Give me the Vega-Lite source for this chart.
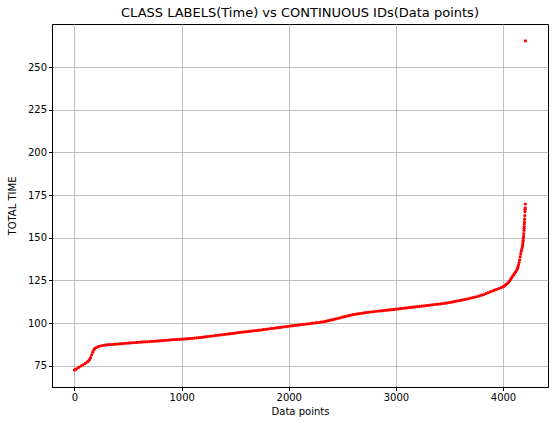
{
  "$schema": "https://vega.github.io/schema/vega-lite/v6.json",
  "width": 496,
  "height": 363,
  "autosize": {"type": "none"},
  "padding": {"left": 52, "top": 24, "right": 8, "bottom": 40},
  "background": "white",
  "title": {"text": "CLASS LABELS(Time) vs CONTINUOUS IDs(Data points)", "font": "DejaVu Sans", "fontSize": 13, "fontWeight": "normal", "color": "black", "offset": 4},
  "config": {
    "view": {"stroke": "black", "strokeWidth": 1},
    "axis": {"labelFont": "DejaVu Sans", "titleFont": "DejaVu Sans", "labelFontSize": 10, "titleFontSize": 10, "titleFontWeight": "normal", "labelColor": "black", "titleColor": "black", "domainColor": "black", "tickColor": "black", "tickSize": 3.5, "labelPadding": 2, "gridColor": "#b0b0b0", "gridWidth": 0.8, "gridOpacity": 1}
  },
  "data": {"values": [
{"x":0,"y":72.5},{"x":10,"y":72.9},{"x":20,"y":73.3},{"x":40,"y":74.1},{"x":60,"y":74.9},{"x":80,"y":75.6},{"x":100,"y":76.4},{"x":120,"y":77.3},{"x":130,"y":77.9},{"x":140,"y":78.6},{"x":150,"y":79.8},{"x":160,"y":81.5},{"x":170,"y":83.0},{"x":180,"y":84.3},{"x":190,"y":85.1},{"x":200,"y":85.6},{"x":220,"y":86.2},{"x":240,"y":86.6},{"x":260,"y":86.9},{"x":280,"y":87.1},{"x":300,"y":87.3},
{"x":320,"y":87.4},{"x":340,"y":87.5},{"x":360,"y":87.6},{"x":380,"y":87.7},{"x":400,"y":87.8},{"x":420,"y":87.9},{"x":440,"y":88.0},{"x":460,"y":88.1},{"x":480,"y":88.2},{"x":500,"y":88.3},{"x":520,"y":88.4},{"x":540,"y":88.5},{"x":560,"y":88.6},{"x":580,"y":88.7},{"x":600,"y":88.8},{"x":620,"y":88.9},{"x":640,"y":89.0},{"x":660,"y":89.05},{"x":680,"y":89.1},{"x":700,"y":89.2},{"x":720,"y":89.3},{"x":740,"y":89.4},{"x":760,"y":89.5},{"x":780,"y":89.6},{"x":800,"y":89.7},{"x":820,"y":89.8},{"x":840,"y":89.9},{"x":860,"y":90.0},{"x":880,"y":90.1},{"x":900,"y":90.2},{"x":920,"y":90.3},{"x":940,"y":90.4},{"x":960,"y":90.45},{"x":980,"y":90.5},{"x":1000,"y":90.6},
{"x":1020,"y":90.7},{"x":1040,"y":90.8},{"x":1060,"y":90.9},{"x":1080,"y":91.0},{"x":1100,"y":91.1},{"x":1120,"y":91.3},{"x":1140,"y":91.4},{"x":1160,"y":91.5},{"x":1180,"y":91.6},{"x":1200,"y":91.8},
{"x":1220,"y":92.0},{"x":1240,"y":92.1},{"x":1260,"y":92.3},{"x":1280,"y":92.4},{"x":1300,"y":92.6},{"x":1320,"y":92.8},{"x":1340,"y":92.9},{"x":1360,"y":93.1},{"x":1380,"y":93.2},{"x":1400,"y":93.4},{"x":1420,"y":93.6},{"x":1440,"y":93.7},{"x":1460,"y":93.9},{"x":1480,"y":94.0},{"x":1500,"y":94.2},
{"x":1520,"y":94.4},{"x":1540,"y":94.5},{"x":1560,"y":94.7},{"x":1580,"y":94.8},{"x":1600,"y":95.0},{"x":1620,"y":95.1},{"x":1640,"y":95.3},{"x":1660,"y":95.4},{"x":1680,"y":95.6},{"x":1700,"y":95.7},{"x":1720,"y":95.9},{"x":1740,"y":96.0},{"x":1760,"y":96.2},{"x":1780,"y":96.3},{"x":1800,"y":96.5},
{"x":1820,"y":96.7},{"x":1840,"y":96.9},{"x":1860,"y":97.0},{"x":1880,"y":97.2},{"x":1900,"y":97.4},{"x":1920,"y":97.5},{"x":1940,"y":97.7},{"x":1960,"y":97.9},{"x":1980,"y":98.0},{"x":2000,"y":98.2},
{"x":2020,"y":98.4},{"x":2040,"y":98.5},{"x":2060,"y":98.7},{"x":2080,"y":98.8},{"x":2100,"y":99.0},{"x":2120,"y":99.2},{"x":2140,"y":99.3},{"x":2160,"y":99.5},{"x":2180,"y":99.6},{"x":2200,"y":99.8},{"x":2220,"y":100.0},{"x":2240,"y":100.1},{"x":2260,"y":100.3},{"x":2280,"y":100.4},{"x":2300,"y":100.6},{"x":2320,"y":100.8},
{"x":2340,"y":101.0},{"x":2360,"y":101.3},{"x":2380,"y":101.6},{"x":2400,"y":101.9},{"x":2420,"y":102.2},{"x":2440,"y":102.5},{"x":2460,"y":102.8},{"x":2480,"y":103.1},{"x":2500,"y":103.5},{"x":2520,"y":103.8},{"x":2540,"y":104.1},{"x":2560,"y":104.4},{"x":2580,"y":104.7},{"x":2600,"y":104.95},
{"x":2620,"y":105.2},{"x":2640,"y":105.4},{"x":2660,"y":105.6},{"x":2680,"y":105.8},{"x":2700,"y":106.0},{"x":2720,"y":106.2},{"x":2740,"y":106.35},{"x":2760,"y":106.5},{"x":2780,"y":106.65},{"x":2800,"y":106.8},
{"x":2820,"y":106.95},{"x":2840,"y":107.1},{"x":2860,"y":107.2},{"x":2880,"y":107.35},{"x":2900,"y":107.5},{"x":2920,"y":107.6},{"x":2940,"y":107.75},{"x":2960,"y":107.9},{"x":2980,"y":108.05},{"x":3000,"y":108.2},
{"x":3020,"y":108.3},{"x":3040,"y":108.5},{"x":3060,"y":108.6},{"x":3080,"y":108.8},{"x":3100,"y":108.9},{"x":3120,"y":109.1},{"x":3140,"y":109.2},{"x":3160,"y":109.4},{"x":3180,"y":109.5},{"x":3200,"y":109.7},{"x":3220,"y":109.8},{"x":3240,"y":110.0},{"x":3260,"y":110.1},{"x":3280,"y":110.3},{"x":3300,"y":110.4},{"x":3320,"y":110.6},{"x":3340,"y":110.7},{"x":3360,"y":110.9},{"x":3380,"y":111.0},{"x":3400,"y":111.2},{"x":3420,"y":111.3},{"x":3440,"y":111.5},
{"x":3460,"y":111.7},{"x":3480,"y":111.9},{"x":3500,"y":112.1},{"x":3520,"y":112.3},{"x":3540,"y":112.6},{"x":3560,"y":112.8},{"x":3580,"y":113.1},{"x":3600,"y":113.3},{"x":3620,"y":113.6},{"x":3640,"y":113.8},{"x":3660,"y":114.1},{"x":3680,"y":114.4},{"x":3700,"y":114.7},{"x":3720,"y":115.0},{"x":3740,"y":115.3},{"x":3760,"y":115.6},
{"x":3780,"y":116.0},{"x":3800,"y":116.4},{"x":3820,"y":116.8},{"x":3840,"y":117.3},{"x":3860,"y":117.8},{"x":3880,"y":118.3},{"x":3900,"y":118.8},{"x":3920,"y":119.3},{"x":3940,"y":119.8},{"x":3960,"y":120.3},{"x":3980,"y":120.8},{"x":4000,"y":121.2},
{"x":4010,"y":121.7},{"x":4020,"y":122.2},{"x":4030,"y":122.7},{"x":4040,"y":123.2},{"x":4050,"y":123.8},{"x":4060,"y":124.6},{"x":4070,"y":125.6},{"x":4080,"y":126.6},{"x":4090,"y":127.5},{"x":4100,"y":128.4},{"x":4110,"y":129.3},{"x":4120,"y":130.2},{"x":4130,"y":131.2},{"x":4135,"y":132.0},{"x":4140,"y":133.0},{"x":4145,"y":134.2},{"x":4150,"y":135.5},{"x":4155,"y":137.0},{"x":4160,"y":138.8},{"x":4165,"y":140.5},{"x":4170,"y":142.0},{"x":4175,"y":143.4},{"x":4180,"y":144.6},{"x":4183,"y":145.8},{"x":4186,"y":147.2},{"x":4188,"y":148.5},{"x":4190,"y":149.8},{"x":4192,"y":151.0},{"x":4194,"y":152.5},{"x":4196,"y":154.3},{"x":4197,"y":155.5},{"x":4198,"y":156.6},{"x":4199,"y":158.0},{"x":4200,"y":159.2},{"x":4201,"y":160.9},{"x":4203,"y":163.0},{"x":4205,"y":165.3},{"x":4206,"y":166.7},{"x":4207,"y":167.5},{"x":4208,"y":169.8},{"x":4209,"y":265.3}
  ]},
  "mark": {"type": "point", "filled": true, "color": "#ff0000", "size": 10, "opacity": 1},
  "encoding": {
    "x": {"field": "x", "type": "quantitative", "scale": {"domain": [-210, 4420], "nice": false, "zero": false}, "axis": {"title": "Data points", "values": [0, 1000, 2000, 3000, 4000], "format": "d", "grid": true, "titlePadding": 4}},
    "y": {"field": "y", "type": "quantitative", "scale": {"domain": [62.6, 275.2], "nice": false, "zero": false}, "axis": {"title": "TOTAL TIME", "values": [75, 100, 125, 150, 175, 200, 225, 250], "grid": true, "titlePadding": 10}}
  }
}
